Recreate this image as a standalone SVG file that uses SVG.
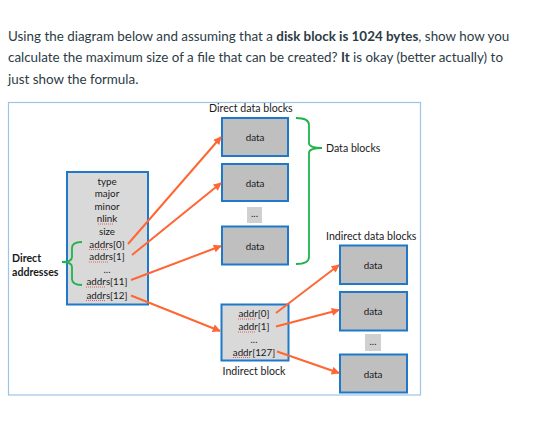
<svg xmlns="http://www.w3.org/2000/svg" width="551" height="425" viewBox="0 0 551 425">
<style>
.hdr{font-family:Lato,"Open Sans","DejaVu Sans",sans-serif;font-size:13.4px;fill:#2d3b45}
.hb{font-weight:bold}
.t{font-family:Lato,"Liberation Sans",sans-serif;font-size:9.8px;fill:#1a1a1a}
.tc{text-anchor:middle}
.lbl{font-family:Lato,"Liberation Sans",sans-serif;font-size:10.6px;fill:#1a1a1a}
.blk{fill:#bfbfbf;stroke:#1f78c8;stroke-width:2}
.ino{fill:#d9d9d9;stroke:#1f78c8;stroke-width:2}
.dots{fill:#d0d0d0}
.br{fill:none;stroke:#22b24c;stroke-width:1.8}
.ar{fill:none;stroke:#ff6633;stroke-width:2}
.sq{fill:none;stroke:#e04040;stroke-width:0.8;stroke-dasharray:1 1}
</style>
<defs>
<marker id="ah" viewBox="0 0 10 10" refX="9" refY="5" markerWidth="9" markerHeight="8" markerUnits="userSpaceOnUse" orient="auto">
<path d="M0,0 L10,5 L0,10 z" fill="#ff6633"/>
</marker>
</defs>
<rect width="551" height="425" fill="#ffffff"/>
<g id="question">
<text class="hdr" x="8" y="41">Using the diagram below and assuming that a <tspan class="hb">disk block is 1024 bytes</tspan>, show how you</text>
<text class="hdr" x="8" y="62">calculate the maximum size of a file that can be created? <tspan class="hb">It</tspan> is okay (better actually) to</text>
<text class="hdr" x="8" y="84">just show the formula.</text>
</g>
<g id="frame">
<rect x="8.5" y="102.5" width="412" height="292.5" fill="#ffffff" stroke="#9dc3e6" stroke-width="1.2"/>
</g>
<g id="inode">
<rect class="ino" x="67" y="172" width="81" height="132.5"/>
<text class="t tc" x="107" y="184.5">type</text>
<text class="t tc" x="107" y="197">major</text>
<text class="t tc" x="107" y="209.5">minor</text>
<text class="t tc" x="107" y="222">nlink</text>
<text class="t tc" x="107" y="234.5">size</text>
<text class="t tc" x="107" y="247.5">addrs[0]</text>
<text class="t tc" x="107" y="260">addrs[1]</text>
<text class="t tc" x="107" y="272.5">...</text>
<text class="t tc" x="107" y="285">addrs[11]</text>
<text class="t tc" x="107" y="298.5">addrs[12]</text>
<path class="sq" d="M98,224 H114 M89,249.5 H109 M89,262 H109 M86,287 H106 M86,300.5 H106"/>
</g>
<g id="direct-addresses">
<path class="br" d="M82,242 Q72,242 72,248 L72,257 Q72,262 62,262 Q72,262 72,267 L72,279 Q72,285 82,285"/>
<text class="lbl hb" x="12" y="261.5">Direct</text>
<text class="lbl hb" x="12" y="275.5">addresses</text>
</g>
<g id="direct-data">
<text class="lbl" x="209" y="111.5">Direct data blocks</text>
<rect class="blk" x="222" y="118" width="66" height="38"/>
<text class="t tc" x="255" y="140.5">data</text>
<rect class="blk" x="222" y="164" width="66" height="37"/>
<text class="t tc" x="255" y="186.5">data</text>
<rect class="dots" x="247" y="207" width="15" height="16"/>
<text class="t tc" x="254.5" y="217" font-size="7">...</text>
<rect class="blk" x="222" y="226.5" width="66" height="38"/>
<text class="t tc" x="255" y="249.5">data</text>
</g>
<g id="data-blocks">
<path class="br" d="M296,118 Q309,118 309,125 L309,143 Q309,148 322,148 Q309,148 309,153 L309,257 Q309,264 296,264"/>
<text class="lbl" x="326" y="151.5">Data blocks</text>
</g>
<g id="indirect-data">
<text class="lbl" x="326" y="239.5">Indirect data blocks</text>
<rect class="blk" x="340" y="245.5" width="67" height="38.5"/>
<text class="t tc" x="373" y="268.5">data</text>
<rect class="blk" x="340" y="292" width="67" height="38.5"/>
<text class="t tc" x="373" y="314.5">data</text>
<rect class="dots" x="365" y="334" width="16" height="17"/>
<text class="t tc" x="373" y="345" font-size="7">...</text>
<rect class="blk" x="340" y="354.5" width="67" height="38"/>
<text class="t tc" x="373" y="377.5">data</text>
</g>
<g id="indirect-block">
<rect class="ino" x="221.5" y="304.5" width="67" height="56"/>
<text class="t tc" x="254" y="317">addr[0]</text>
<text class="t tc" x="254" y="330">addr[1]</text>
<text class="t tc" x="254" y="342.5">...</text>
<text class="t tc" x="254" y="355.5">addr[127]</text>
<path class="sq" d="M238,319 H256 M238,332 H256 M233,357.5 H251"/>
<text class="lbl tc" x="254" y="374.5">Indirect block</text>
</g>
<g id="connectors">
<path class="ar" marker-end="url(#ah)" d="M128,244 L221,137"/>
<path class="ar" marker-end="url(#ah)" d="M132,255 L221,183"/>
<path class="ar" marker-end="url(#ah)" d="M131,280 L221,246"/>
<path class="ar" marker-end="url(#ah)" d="M131,295.5 L220,331"/>
<path class="ar" marker-end="url(#ah)" d="M276,313 L339,265"/>
<path class="ar" marker-end="url(#ah)" d="M276,326.5 L339,310"/>
<path class="ar" marker-end="url(#ah)" d="M277,351.5 L339,373"/>
</g>
</svg>
